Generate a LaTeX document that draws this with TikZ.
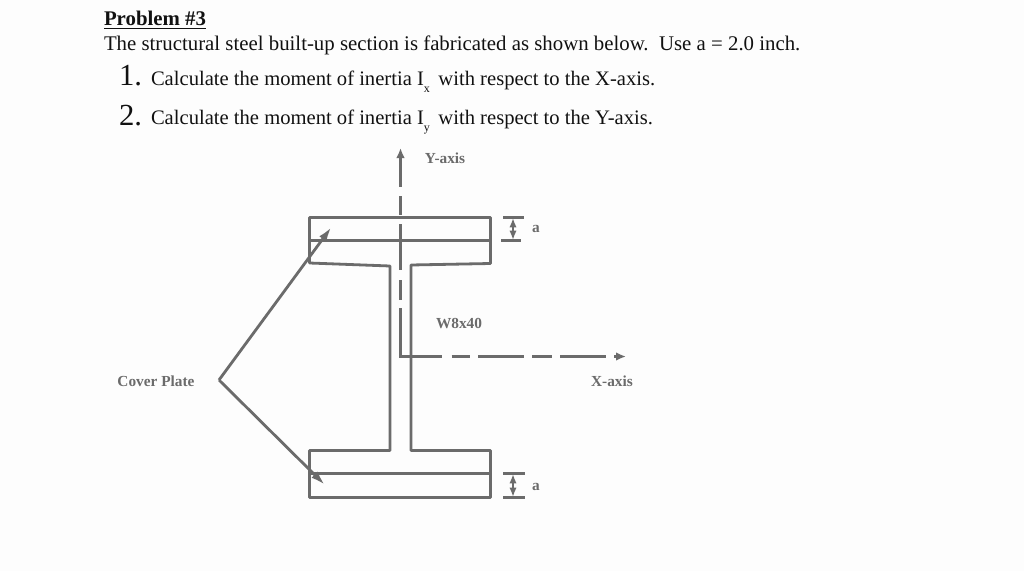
\documentclass[tikz,border=0pt]{standalone}
\usepackage{fontspec}
\setmainfont{Liberation Serif}
\usetikzlibrary{arrows.meta}
\definecolor{bgc}{HTML}{FDFDFD}
\definecolor{ink}{HTML}{6B6B6B}
\definecolor{txt}{HTML}{111111}
\newcommand{\lowr}[1]{\raisebox{-5.6pt}{\fontsize{9pt}{9pt}\selectfont #1}}
\begin{document}
\begin{tikzpicture}[x=0.75pt,y=-0.75pt,
  px/.style={inner sep=0pt,outer sep=0pt},
  head/.style={px,anchor=base west,text=txt,font=\fontsize{15.62pt}{18pt}\selectfont},
  item/.style={px,anchor=base west,text=txt,font=\fontsize{15.45pt}{18pt}\selectfont},
  num/.style={px,anchor=base west,text=txt,font=\fontsize{23pt}{24pt}\selectfont},
  tag/.style={px,text=ink,font=\bfseries\fontsize{11.5pt}{13pt}\selectfont},
  outline/.style={draw=ink,line width=2.1pt,line join=round},
  leader/.style={draw=ink,line width=2.1pt,-{Latex[length=11pt,width=6.5pt]}},
  dim/.style={draw=ink,line width=1.6pt,{Latex[length=7pt,width=5.5pt]}-{Latex[length=7pt,width=5.5pt]}},
  tick/.style={draw=ink,line width=2.1pt},
  axis/.style={draw=ink,line width=2.3pt,{Latex[length=7.5pt,width=6.5pt]}-{Latex[length=7.5pt,width=6.5pt]},
    dash pattern=on 22.5pt off 6.75pt on 14.25pt off 6.75pt on 34.5pt off 7.5pt on 15pt off 6pt on 67.5pt off 7.3pt on 13.5pt off 6.2pt on 34.5pt off 6pt on 15pt off 6pt on 34.5pt off 6pt}]
\fill[bgc] (0,0) rectangle (1024,571);
\useasboundingbox (0,0) rectangle (1024,571);

% text
\node[head,font=\bfseries\fontsize{15.62pt}{18pt}\selectfont] (title) at (104,26) {\underline{Problem \#3}};
\node[head] (intro) at (104,50) {The structural steel built-up section is fabricated as shown below.\ \ Use a = 2.0 inch.};
\node[num] (n1) at (119,85) {1.};
\node[item] (q1) at (151,85) {Calculate the moment of inertia I\lowr{x}\hspace{2.6pt} with respect to the X-axis.};
\node[num] (n2) at (119,125) {2.};
\node[item] (q2) at (151,124) {Calculate the moment of inertia I\lowr{y}\hspace{2.6pt} with respect to the Y-axis.};

% section
\coordinate (TL) at (309.5,217.5);
\coordinate (TR) at (490.5,217.5);
\coordinate (TMR) at (490.5,240.5);
\coordinate (TML) at (309.5,240.5);
\coordinate (BL) at (309.5,497.5);
\coordinate (BR) at (490.5,497.5);
\coordinate (BML) at (309.5,473.5);
\coordinate (BMR) at (490.5,473.5);
\draw[outline] (TL) -- (TR) -- (490.5,263.5) -- (411,265) -- (411,450.5) -- (490.5,450.5) -- (BR)
  -- (BL) -- (309.5,450.5) -- (390,450.5) -- (390,266) -- (309.5,263) -- cycle;
\draw[outline] (TML) -- (TMR);
\draw[outline] (BML) -- (BMR);

% axes
\coordinate (ytip) at (400.5,148);
\coordinate (xtip) at (626,356.5);
\draw[axis] (ytip) |- (xtip);
\node[tag] (ylab) at (445,158) {Y-axis};
\node[tag] (xlab) at (612,381) {X-axis};
\node[tag] (w) at (459,324) {W8x40};

% cover plate leader
\node[tag] (cp) at (156,381) {Cover Plate};
\coordinate (knee) at (219,380);
\coordinate (ctop) at (331.5,227);
\coordinate (cbot) at (325,485);
\draw[leader] (knee) -- (ctop);
\draw[leader] (knee) -- (cbot);

% dimensions
\coordinate (d1a) at (513,218); \coordinate (d1b) at (513,240);
\coordinate (d2a) at (513,474); \coordinate (d2b) at (513,497);
\draw[tick] (503,217.5) -- (524,217.5);
\draw[tick] (501,240.5) -- (521,240.5);
\draw[tick] (503,473.5) -- (525,473.5);
\draw[tick] (503,497.5) -- (525,497.5);
\draw[dim] (d1a) -- (d1b);
\draw[dim] (d2a) -- (d2b);
\node[tag] (a1) at (536,229) {a};
\node[tag] (a2) at (536,487) {a};
\end{tikzpicture}
\end{document}
